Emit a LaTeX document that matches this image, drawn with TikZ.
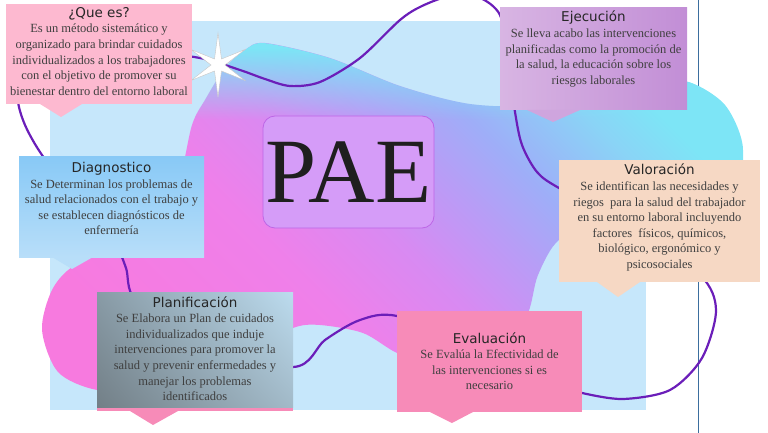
\documentclass[tikz,border=0pt]{standalone}
\usepackage{fontspec}
\setmainfont{Liberation Serif}
\newfontfamily\headfont{DejaVu Sans}
\usetikzlibrary{shadings,fadings}

\definecolor{bgblue}{HTML}{C6E7FB}
\definecolor{loopviolet}{HTML}{6B1EB9}
\definecolor{sepblue}{HTML}{3B6E9E}
\definecolor{quepink}{HTML}{FDB9D0}
\definecolor{ejeleft}{HTML}{D8B5E3}
\definecolor{ejeright}{HTML}{C28ED6}
\definecolor{diagtop}{HTML}{88C9F6}
\definecolor{diagbottom}{HTML}{B8DEF9}
\definecolor{valpeach}{HTML}{F6D8C4}
\definecolor{evalpink}{HTML}{F78BB8}
\definecolor{paefill}{HTML}{D59CF8}
\definecolor{paedraw}{HTML}{BD66E6}
\definecolor{bodygray}{HTML}{3F3F3F}
\definecolor{headgray}{HTML}{262626}
\definecolor{bpink}{HTML}{F77ADF}
\definecolor{bpinkmag}{HTML}{EF80EA}
\definecolor{bmag}{HTML}{D88AF2}
\definecolor{blav}{HTML}{B99CF6}
\definecolor{bblue}{HTML}{9EAEF8}
\definecolor{bcyanb}{HTML}{8AD4F6}
\definecolor{bcyan}{HTML}{7DE5F6}

\pgfdeclarehorizontalshading{blobfill}{100bp}{color(0bp)=(bpink); color(24bp)=(bpink);
  color(40bp)=(bpinkmag); color(49bp)=(bmag); color(56bp)=(blav);
  color(62bp)=(bblue); color(70bp)=(bcyanb); color(75bp)=(bcyan); color(100bp)=(bcyan)}
% cyan rim on top of the blob
\pgfdeclareverticalshading{hilltopshade}{100bp}{color(0bp)=(black); color(64bp)=(black);
  color(74bp)=(white); color(100bp)=(white)}
\pgfdeclarefading{hilltop}{\pgfuseshading{hilltopshade}}

\newcommand{\boxtitle}[1]{{\headfont\fontsize{13.5}{15.6}\selectfont\color{headgray}#1}}

\begin{document}
\begin{tikzpicture}[
        x=1pt, y=-1pt,
        callout/.style={inner sep=0pt, outer sep=0pt},
        txt/.style={anchor=north, align=center, inner sep=0pt, text=bodygray,
            font=\fontsize{12.5}{15.6}\selectfont},
        loopline/.style={loopviolet, line width=2.2pt},
        paebox/.style={fill=paefill, draw=paedraw, line width=0.8pt, rounded corners=12pt,
            minimum width=171, minimum height=112, inner sep=0pt,
            font=\fontsize{92}{92}\selectfont, text=black!88},
    ]
    \useasboundingbox (0,0) rectangle (768,433);
    % background
    \fill[bgblue] (50,21) rectangle (646,410);
    \draw[sepblue, line width=0.8pt] (698,0) -- (698,433);
    % blob
    \shade[shading=blobfill, shading angle=45] plot[smooth cycle] coordinates {
        (265,43) (330,58) (400,86) (470,104) (540,105) (640,88) (685,81) (725,105)
        (743,150) (725,200) (600,228) (559,240) (538,275) (528,313) (505,348)
        (430,362) (397,353) (363,333) (320,325) (293,328) (250,352) (160,392)
        (97,390) (58,372) (42,330) (52,290) (75,265) (130,240) (175,190)
        (192,125) (205,100) (225,68) (245,50)};
    \fill[bcyan, path fading=hilltop] plot[smooth cycle] coordinates {
        (265,43) (330,58) (400,86) (470,104) (540,105) (640,88) (685,81) (725,105)
        (743,150) (725,200) (600,228) (559,240) (538,275) (528,313) (505,348)
        (430,362) (397,353) (363,333) (320,325) (293,328) (250,352) (160,392)
        (97,390) (58,372) (42,330) (52,290) (75,265) (130,240) (175,190)
        (192,125) (205,100) (225,68) (245,50)};
    % loop
    \draw[loopline] plot[smooth cycle] coordinates {
        (18,100) (25,125) (42,155) (80,205) (115,245) (126,268) (135,300)
        (190,345) (293,367) (325,340) (360,320) (397,316) (480,345) (560,386)
        (582,393) (623,399) (670,390) (702,358) (716,310) (700,275) (630,225)
        (559,188) (537,172) (522,145) (515,112) (508,60) (500,15) (478,-3)
        (450,-4) (422,6) (400,20) (360,58) (320,82) (290,86) (265,79)
        (240,70) (200,58) (140,52) (60,62) (25,82)};
    % star
    \filldraw[white, draw=gray!45, line width=0.4pt] (218,33) -- (221.5,59) -- (245,49.5)
        -- (225,65) -- (245,80.5) -- (221.5,71) -- (218,97) -- (214.5,71) -- (191,80.5)
        -- (211,65) -- (191,49.5) -- (214.5,59) -- cycle;
    % center
    \node[paebox] (pae) at (348.5,172) {PAE};
    % que es
    \node[callout, fill=quepink, minimum width=186, minimum height=100] (quebox) at (99,54) {};
    \fill[quepink] (40,104) -- (61,117) -- (82,104) -- cycle;
    \node[txt] (quetxt) at (99,7) {\boxtitle{¿Que es?}\\
        Es un método sistemático y\\ organizado para brindar cuidados\\
        individualizados a los trabajadores\\ con el objetivo de promover su\\
        bienestar dentro del entorno laboral};
    % ejecucion
    \node[callout, left color=ejeleft, right color=ejeright, minimum width=187,
        minimum height=102] (ejebox) at (593.5,59) {};
    \fill[ejeleft!60!ejeright] (527,110) -- (553,122) -- (580,110) -- cycle;
    \node[txt] (ejetxt) at (593.5,11) {\boxtitle{Ejecución}\\
        Se lleva acabo las intervenciones\\ planificadas como la promoción de\\
        la salud, la educación sobre los\\ riesgos laborales};
    % diagnostico
    \node[callout, top color=diagtop, bottom color=diagbottom, minimum width=185,
        minimum height=101] (diagbox) at (111.5,206.5) {};
    \fill[diagbottom] (52,257) -- (72,269) -- (93,257) -- cycle;
    \node[txt] (diagtxt) at (111.5,162) {\boxtitle{Diagnostico}\\
        Se Determinan los problemas de\\ salud relacionados con el trabajo y\\
        se establecen diagnósticos de\\ enfermería};
    % valoracion
    \node[callout, fill=valpeach, minimum width=201, minimum height=122] (valbox) at (659.5,221) {};
    \fill[valpeach] (597,282) -- (618,297) -- (640,282) -- cycle;
    \node[txt] (valtxt) at (659.5,164) {\boxtitle{Valoración}\\
        Se identifican las necesidades y\\ riegos~ para la salud del trabajador\\
        en su entorno laboral incluyendo\\ factores~ físicos, químicos,\\
        biológico, ergonómico y\\ psicosociales};
    % planificacion
    \fill[evalpink] (97,300) rectangle (293,411);
    \fill[evalpink] (130,411) -- (153,425) -- (178,411) -- cycle;
    \node[callout, upper left=black!30!bgblue!80!gray, upper right=bgblue!95!black,
        lower left=black!45!bgblue!70!gray, lower right=black!15!bgblue!85!gray,
        minimum width=196, minimum height=115] (planbox) at (195,349.5) {};
    \node[txt] (plantxt) at (195,296) {\boxtitle{Planificación}\\
        Se Elabora un Plan de cuidados\\ individualizados que induje\\
        intervenciones para promover la\\ salud y prevenir enfermedades y\\
        manejar los problemas\\ identificados};
    % evaluacion
    \node[callout, fill=evalpink, minimum width=185, minimum height=101] (evalbox) at (489.5,361.5) {};
    \fill[evalpink] (430,412) -- (452,423) -- (473,412) -- cycle;
    \node[txt] (evaltxt) at (489.5,332) {\boxtitle{Evaluación}\\
        Se Evalúa la Efectividad de\\ las intervenciones si es\\ necesario};
\end{tikzpicture}
\end{document}
